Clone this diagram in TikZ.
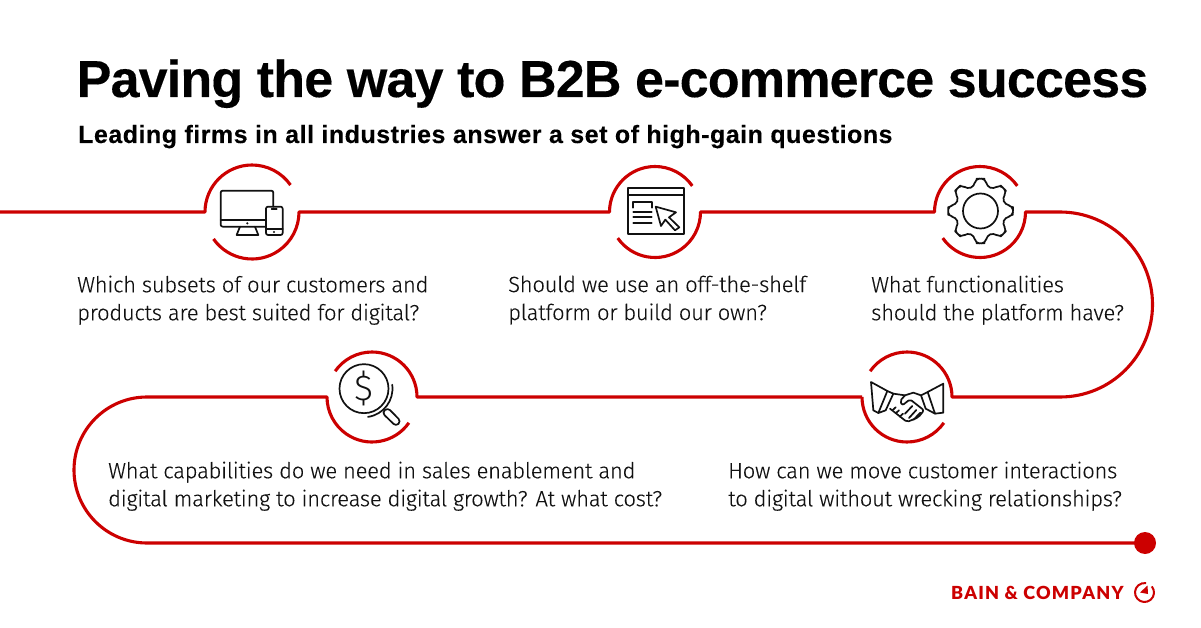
\documentclass[tikz,border=0pt]{standalone}
\usepackage{fontspec}
\setmainfont{Liberation Sans}
\newfontfamily\titlef{Liberation Sans Bold}[FakeBold=0.25,LetterSpace=-1.55]
\newfontfamily\subf{Liberation Sans Bold}[FakeBold=0.2,LetterSpace=2.0]
\newfontfamily\bodyf{Fira Sans Light}[LetterSpace=-1.1,FakeBold=0.12]
\newfontfamily\dollarf{Fira Sans Light}
\newfontfamily\logof{Lato Black}[LetterSpace=7]
\definecolor{bainred}{HTML}{CC0000}
\definecolor{ink}{HTML}{111111}
\tikzset{
  route/.style={draw=bainred,line width=3.1pt,line cap=butt,line join=round},
  icon/.style={draw=ink,line width=1.7pt,line join=round,line cap=round},
  question/.style={anchor=north west,inner sep=0pt,align=left,text=ink,font=\bodyf\fontsize{22}{28}\selectfont},
}
\begin{document}
\begin{tikzpicture}[x=1pt,y=-1pt]
\useasboundingbox (0,0) rectangle (1201,628);
\fill[white] (0,0) rectangle (1201,628);
\coordinate (c1) at (252,212);
\coordinate (c2) at (655,212);
\coordinate (c3) at (980,212);
\coordinate (c5) at (907,397);
\coordinate (c4) at (372,397);
\coordinate (start) at (0,212);
\node[anchor=base west,inner sep=0pt,text=black,font=\titlef\fontsize{52}{52}\selectfont] (title) at (76.5,97) {Paving the way to B2B e-commerce success};
\node[anchor=base west,inner sep=0pt,text=black,font=\subf\fontsize{25}{28}\selectfont] (sub) at (78,143) {Leading firms in all industries answer a set of high-gain questions};
% route
\draw[route] (start) -- ([xshift=-47pt]c1) arc[start angle=180,end angle=35,radius=47pt];
\draw[route] ([shift={(215:47pt)}]c1) arc[start angle=215,end angle=360,radius=47pt] -- ([xshift=-45.5pt]c2) arc[start angle=180,end angle=35,radius=45.5pt];
\draw[route] ([shift={(215:45.5pt)}]c2) arc[start angle=215,end angle=360,radius=45.5pt] -- ([xshift=-45.5pt]c3) arc[start angle=180,end angle=35,radius=45.5pt];
\draw[route] ([shift={(215:45.5pt)}]c3) arc[start angle=215,end angle=360,radius=45.5pt] -- (1060,212) arc[start angle=90,end angle=-90,radius=92.5pt] -- ([xshift=45pt]c5) arc[start angle=0,end angle=145,radius=45pt];
\draw[route] ([xshift=-45pt]c5) arc[start angle=180,end angle=325,radius=45pt];
\draw[route] ([xshift=-45pt]c5) -- ([xshift=45pt]c4) arc[start angle=0,end angle=145,radius=45pt];
\draw[route] ([shift={(325:45pt)}]c4) arc[start angle=325,end angle=180,radius=45pt] -- (147,397) arc[start angle=90,end angle=270,radius=73pt] -- (1145,543);
\fill[bainred] (1145,543) circle[radius=11pt];
% texts
\node[question] (q1) at (77,275.5) {Which subsets of our customers and\\products are best suited for digital?};
\node[question] (q2) at (508,275.5) {Should we use an off-the-shelf\\platform or build our own?};
\node[question] (q3) at (871,275.5) {What functionalities\\should the platform have?};
\node[question] (q4) at (108,461.5) {What capabilities do we need in sales enablement and\\digital marketing to increase digital growth? At what cost?};
\node[question] (q5) at (728,461.5) {How can we move customer interactions\\to digital without wrecking relationships?};
% monitor icon
\begin{scope}[shift={(190,155)},x=0.3333pt,y=-0.3333pt]
\draw[icon,rounded corners=2pt] (250,155) -- (250,107) -- (92,107) -- (92,215) -- (228,215);
\draw[icon] (92,195) -- (228,195);
\draw[icon] (150,215) -- (140,240) -- (205,240) -- (195,215);
\draw[icon,rounded corners=2pt] (228,155) rectangle (278,240);
\draw[icon] (228,222) -- (278,222);
\draw[icon] (245,163) -- (260,163);
\fill[ink] (172,205) circle[radius=1.2pt];
\fill[ink] (252,231) circle[radius=1.2pt];
\end{scope}
% browser icon
\begin{scope}[shift={(600,155)},x=0.3333pt,y=-0.3333pt]
\draw[icon] (84,100) rectangle (252,238);
\draw[icon] (84,120) -- (252,120);
\draw[icon] (100,158) -- (100,140) -- (155,140) -- (155,158);
\draw[icon] (100,172) -- (155,172);
\draw[icon] (100,187) -- (155,187);
\draw[icon] (100,204) -- (155,204);
\draw[icon] (167,155) -- (228,172) -- (207,187) -- (238,217) -- (225,226) -- (196,194) -- (183,213) -- cycle;
\end{scope}
% gear icon
\begin{scope}[shift={(980.5,211)}]
\draw[icon] (0,0) circle[radius=17.5pt];
\draw[icon,rounded corners=4pt] (0:32.5)
  foreach \a in {0,45,...,315}{ -- (\a+9:32.5) -- (\a+14:25.5) -- (\a+31:25.5) -- (\a+36:32.5) -- (\a+45:32.5) } -- cycle;
\end{scope}
% magnifier icon
\begin{scope}[shift={(320,342)},x=0.3333pt,y=-0.3333pt]
\draw[icon] (132,140) circle[radius=24.5pt];
\draw[icon] ([shift={(8:28.5pt)}]132,140) arc[start angle=8,end angle=-82,radius=28.5pt];
\draw[icon,rounded corners=3.5pt] (186,212) -- (203,197) -- (243,238) -- (228,253) -- cycle;
\node[inner sep=0pt,text=ink,font=\dollarf\fontsize{36}{36}\selectfont] (dollar) at (132,140) {\$};
\end{scope}
% handshake icon
\begin{scope}[shift={(855,342)},x=0.3333pt,y=-0.3333pt]
\draw[icon] (48,120) -- (97,147) -- (70,213) -- (55,205) -- cycle;
\draw[icon] (97,147) -- (115,155) -- (92,205) -- (70,213);
\draw[icon] (265,125) -- (218,150) -- (240,215) -- (265,212) -- cycle;
\draw[icon] (218,150) -- (198,160) -- (212,200) -- (240,215);
\draw[icon] (115,155) -- (150,160) -- (175,152) -- (198,160);
\draw[icon,rounded corners=2pt] (150,160) -- (135,177) -- (142,190) -- (165,172) -- (207,205) -- (190,226) -- (156,240) -- (105,200);
\draw[icon] (150,215) -- (172,192);
\draw[icon] (162,228) -- (184,204);
\draw[icon] (176,233) -- (196,212);
\draw[icon] (112,205) -- (122,196);
\draw[icon] (122,214) -- (132,205);
\draw[icon] (134,224) -- (144,215);
\end{scope}
% logo
\node[anchor=base west,inner sep=0pt,text=bainred,font=\logof\fontsize{18}{18}\selectfont] (logo) at (951,599.5) {BAIN \& COMPANY};
\coordinate (lg) at (1144.5,592.5);
\draw[bainred,line width=2pt] ([shift={(40:9.5pt)}]lg) arc[start angle=40,end angle=-280,radius=9.5pt];
\fill[bainred] (lg) ++(-4.5,0) -- ++(7.5,-7) -- ++(0.5,8.5) -- cycle;
\end{tikzpicture}
\end{document}
